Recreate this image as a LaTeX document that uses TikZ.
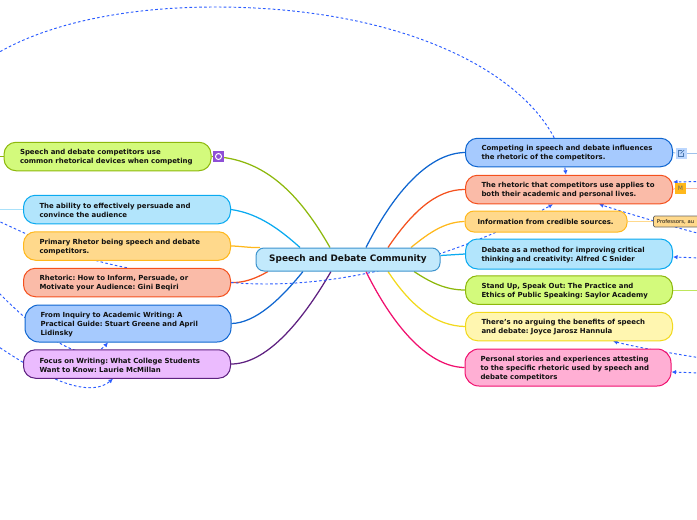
\documentclass[tikz,border=0pt]{standalone}
\usepackage{fontspec}
\setmainfont{DejaVu Sans}
\usetikzlibrary{arrows.meta,backgrounds}
\definecolor{ink}{HTML}{111111}
\definecolor{linkBlue}{HTML}{2B5CFF}
\definecolor{centerFill}{HTML}{C2E9FC}
\definecolor{centerLine}{HTML}{3E94CE}
\definecolor{limeFill}{HTML}{D3FA7C}
\definecolor{limeLine}{HTML}{8DB80C}
\definecolor{skyFill}{HTML}{B2E5FC}
\definecolor{skyLine}{HTML}{0AAAF0}
\definecolor{amberFill}{HTML}{FFD98C}
\definecolor{amberLine}{HTML}{FFB81C}
\definecolor{coralFill}{HTML}{FABBA8}
\definecolor{coralLine}{HTML}{F4511E}
\definecolor{azureFill}{HTML}{A6CAFE}
\definecolor{azureLine}{HTML}{0F66D0}
\definecolor{violetFill}{HTML}{EBBBFE}
\definecolor{violetLine}{HTML}{5E2080}
\definecolor{lemonFill}{HTML}{FFF6B0}
\definecolor{lemonLine}{HTML}{F2D91E}
\definecolor{pinkFill}{HTML}{FFAFD4}
\definecolor{pinkLine}{HTML}{F0106E}
\definecolor{markerViolet}{HTML}{8E4FD6}
\definecolor{markerGlyph}{HTML}{4A78B0}
\tikzset{
  every node/.style={text=ink},
  topic/.style={rectangle, rounded corners=12pt, line width=1pt, align=left,
    inner xsep=0pt, inner ysep=0pt, minimum height=28.5pt, minimum width=207pt,
    text width=175pt, font=\fontsize{6.95}{9}\selectfont\bfseries,
    execute at end node=\vspace{-2pt}},
  lime/.style={topic, draw=limeLine, fill=limeFill},
  sky/.style={topic, draw=skyLine, fill=skyFill},
  amber/.style={topic, draw=amberLine, fill=amberFill},
  coral/.style={topic, draw=coralLine, fill=coralFill},
  azure/.style={topic, draw=azureLine, fill=azureFill},
  violet/.style={topic, draw=violetLine, fill=violetFill},
  lemon/.style={topic, draw=lemonLine, fill=lemonFill},
  pinkish/.style={topic, draw=pinkLine, fill=pinkFill},
  icon/.style={minimum size=11pt, inner sep=0pt},
  branch/.style={line width=1.25pt},
  stub/.style={line width=1pt},
  relation/.style={-{Latex[length=4.5pt,width=4.5pt]}, draw=linkBlue,
    dash pattern=on 2.6pt off 2.3pt, line width=.95pt}
}
\begin{document}
\frenchspacing
\begin{tikzpicture}[x=1pt,y=-1pt]
\useasboundingbox (0,0) rectangle (697,520);

% ---------------------------------------------------------------------------
% Central topic and the left-hand side.
% ---------------------------------------------------------------------------
\node[draw=centerLine, fill=centerFill, rounded corners=8pt, line width=1pt,
  minimum width=184pt, minimum height=23pt,
  font=\fontsize{8.9}{10}\selectfont\bfseries] (community) at (348,259.5)
  {Speech and Debate Community};

\node[lime, minimum width=207pt] (devices) at (107.5,156.5)
  {Speech and debate competitors use\\common rhetorical devices when competing};
\node[sky] (persuade) at (127,209.5)
  {The ability to effectively persuade and\\convince the audience};
\node[amber] (rhetor) at (127,246)
  {Primary Rhetor being speech and debate\\competitors.};
\node[coral] (beqiri) at (127,282.5)
  {Rhetoric: How to Inform, Persuade, or\\Motivate your Audience: Gini Beqiri};
\node[azure, minimum width=206pt, minimum height=37pt, rounded corners=14pt] (greene) at (128,323.5)
  {From Inquiry to Academic Writing: A\\Practical Guide: Stuart Greene and April\\Lidinsky};
\node[violet] (mcmillan) at (127,364)
  {Focus on Writing: What College Students\\Want to Know: Laurie McMillan};

% ---------------------------------------------------------------------------
% Right-hand side.
% ---------------------------------------------------------------------------
\node[azure] (competing) at (569,152.5)
  {Competing in speech and debate influences\\the rhetoric of the competitors.};
\node[coral] (applies) at (569,189.5)
  {The rhetoric that competitors use applies to\\both their academic and personal lives.};
\node[amber, minimum width=162pt, minimum height=21pt, text width=137pt,
  rounded corners=9pt] (credible) at (546,221.5)
  {Information from credible sources.};
\node[sky, minimum height=30pt] (snider) at (569,254)
  {Debate as a method for improving critical\\thinking and creativity: Alfred C Snider};
\node[lime] (saylor) at (569,290)
  {Stand Up, Speak Out: The Practice and\\Ethics of Public Speaking: Saylor Academy};
\node[lemon] (hannula) at (569,326.5)
  {There's no arguing the benefits of speech\\and debate: Joyce Jarosz Hannula};
\node[pinkish, minimum width=206pt, minimum height=37pt, rounded corners=14pt] (stories) at (568,367.5)
  {Personal stories and experiences attesting\\to the specific rhetoric used by speech and\\debate competitors};

\node[draw=black!60, fill=amberFill, rounded corners=1.5pt, line width=.8pt,
  anchor=west, minimum width=60pt, minimum height=11pt, inner xsep=3.5pt, inner ysep=0pt,
  align=left, text width=53pt, font=\fontsize{5.3}{6}\selectfont] (professors) at (653,221.5)
  {Professors, au};

% Markers next to the topics.
\node[icon, fill=markerViolet] (target) at (218.5,156.5) {};
\node[circle, draw=white, line width=1pt, fill=markerViolet, minimum size=6pt, inner sep=0pt] (targetring) at (target) {};
\node[icon, fill=azureFill!75] (weblink) at (681,153) {};
\draw[markerGlyph, line width=.7pt] ([shift={(1,-2.5)}]weblink.center) -- ([shift={(-3,-2.5)}]weblink.center)
  -- ([shift={(-3,3)}]weblink.center) -- ([shift={(2.5,3)}]weblink.center) -- ([shift={(2.5,0)}]weblink.center);
\draw[markerGlyph, line width=.7pt] ([shift={(-.5,.5)}]weblink.center) -- ([shift={(3,-3)}]weblink.center);
\node[icon, fill=amberLine, text=black!60, font=\fontsize{6}{7}\selectfont] (moscow) at (680.5,188.5) {M};

% Free ends of the lines leaving the frame.
\coordinate (offCentreL) at (-4,54);
\coordinate (arcTop) at (215,7);
\coordinate (offRhetor) at (-4,220);
\coordinate (offGreene) at (-4,290);
\coordinate (offMcmillan) at (-4,345);
\coordinate (offApplies) at (701,181.5);
\coordinate (offCredible) at (701,234);
\coordinate (offSnider) at (701,258);
\coordinate (offHannula) at (701,358);
\coordinate (offStories) at (701,373);
\coordinate (edgeDevices) at (-2,156.5);
\coordinate (edgePersuade) at (-2,209.5);
\coordinate (edgeWeblink) at (699,153);
\coordinate (edgeMoscow) at (699,188.5);
\coordinate (edgeSaylor) at (699,290);

\begin{scope}[on background layer]
  % branches from the central topic
  \draw[branch, limeLine] ([xshift=-18pt]community.north) .. controls (300,195) and (265,158) .. (devices.east);
  \draw[branch, skyLine] ([xshift=-48pt]community.north) .. controls (275,225) and (255,213) .. (persuade.east);
  \draw[branch, amberLine] ([xshift=-88pt]community.north) .. controls (250,248) and (240,246) .. (rhetor.east);
  \draw[branch, coralLine] ([xshift=-80pt]community.south) .. controls (255,279) and (243,283) .. (beqiri.east);
  \draw[branch, azureLine] ([xshift=-45pt]community.south) .. controls (280,300) and (255,323) .. (greene.east);
  \draw[branch, violetLine] ([xshift=-17pt]community.south) .. controls (300,325) and (265,364) .. (mcmillan.east);
  \draw[branch, azureLine] ([xshift=18pt]community.north) .. controls (395,190) and (430,153) .. (competing.west);
  \draw[branch, coralLine] ([xshift=40pt]community.north) .. controls (410,215) and (435,189) .. (applies.west);
  \draw[branch, amberLine] ([xshift=63pt]community.north) .. controls (430,232) and (445,222) .. (credible.west);
  \draw[branch, skyLine] ([yshift=16pt]community.south east) -- (snider.west);
  \draw[branch, limeLine] ([xshift=66pt]community.south) .. controls (430,282) and (445,290) .. (saylor.west);
  \draw[branch, lemonLine] ([xshift=40pt]community.south) .. controls (410,305) and (435,326) .. (hannula.west);
  \draw[branch, pinkLine] ([xshift=18pt]community.south) .. controls (395,330) and (430,367) .. (stories.west);
  % pale continuation stubs
  \draw[stub, limeLine] (devices.west) -- (edgeDevices);
  \draw[stub, skyLine!35] (persuade.west) -- (edgePersuade);
  \draw[stub, azureLine!40] (weblink.east) -- (edgeWeblink);
  \draw[stub, coralFill] (moscow.east) -- (edgeMoscow);
  \draw[stub, amberFill] (credible.east) -- (professors.west);
  \draw[stub, limeFill!70!limeLine] (saylor.east) -- (edgeSaylor);
  \draw[stub, limeLine] (target) -- (devices.east);
  \draw[stub, azureLine!40] (weblink.west) -- (competing.east);
  \draw[stub, coralFill] (moscow.west) -- (applies.east);
  % dashed relations
  \draw[relation] (offCentreL) .. controls (50,22) and (130,7) .. (arcTop)
    .. controls (420,7) and (552,85) .. ([xshift=-3pt]applies.north);
  \draw[relation] (beqiri.east) .. controls (340,292) and (460,255) .. ([xshift=-16pt]applies.south);
  \draw[relation, -] (offRhetor) .. controls (40,240) and (75,258) .. (beqiri.north);
  \draw[relation] (offGreene) .. controls (40,335) and (85,368) .. ([xshift=-20pt]greene.south);
  \draw[relation] (offMcmillan) .. controls (30,368) and (85,402) .. ([xshift=-14pt]mcmillan.south);
  \draw[relation] (offApplies) -- ([yshift=7.5pt]applies.east);
  \draw[relation] (offCredible) .. controls (670,226) and (630,214) .. ([xshift=30pt]applies.south);
  \draw[relation] (offSnider) -- ([yshift=-3pt]snider.east);
  \draw[relation] (offHannula) .. controls (670,353) and (640,348) .. ([xshift=44pt]hannula.south);
  \draw[relation] (offStories) -- ([yshift=-4.5pt]stories.east);
\end{scope}

\end{tikzpicture}
\end{document}
